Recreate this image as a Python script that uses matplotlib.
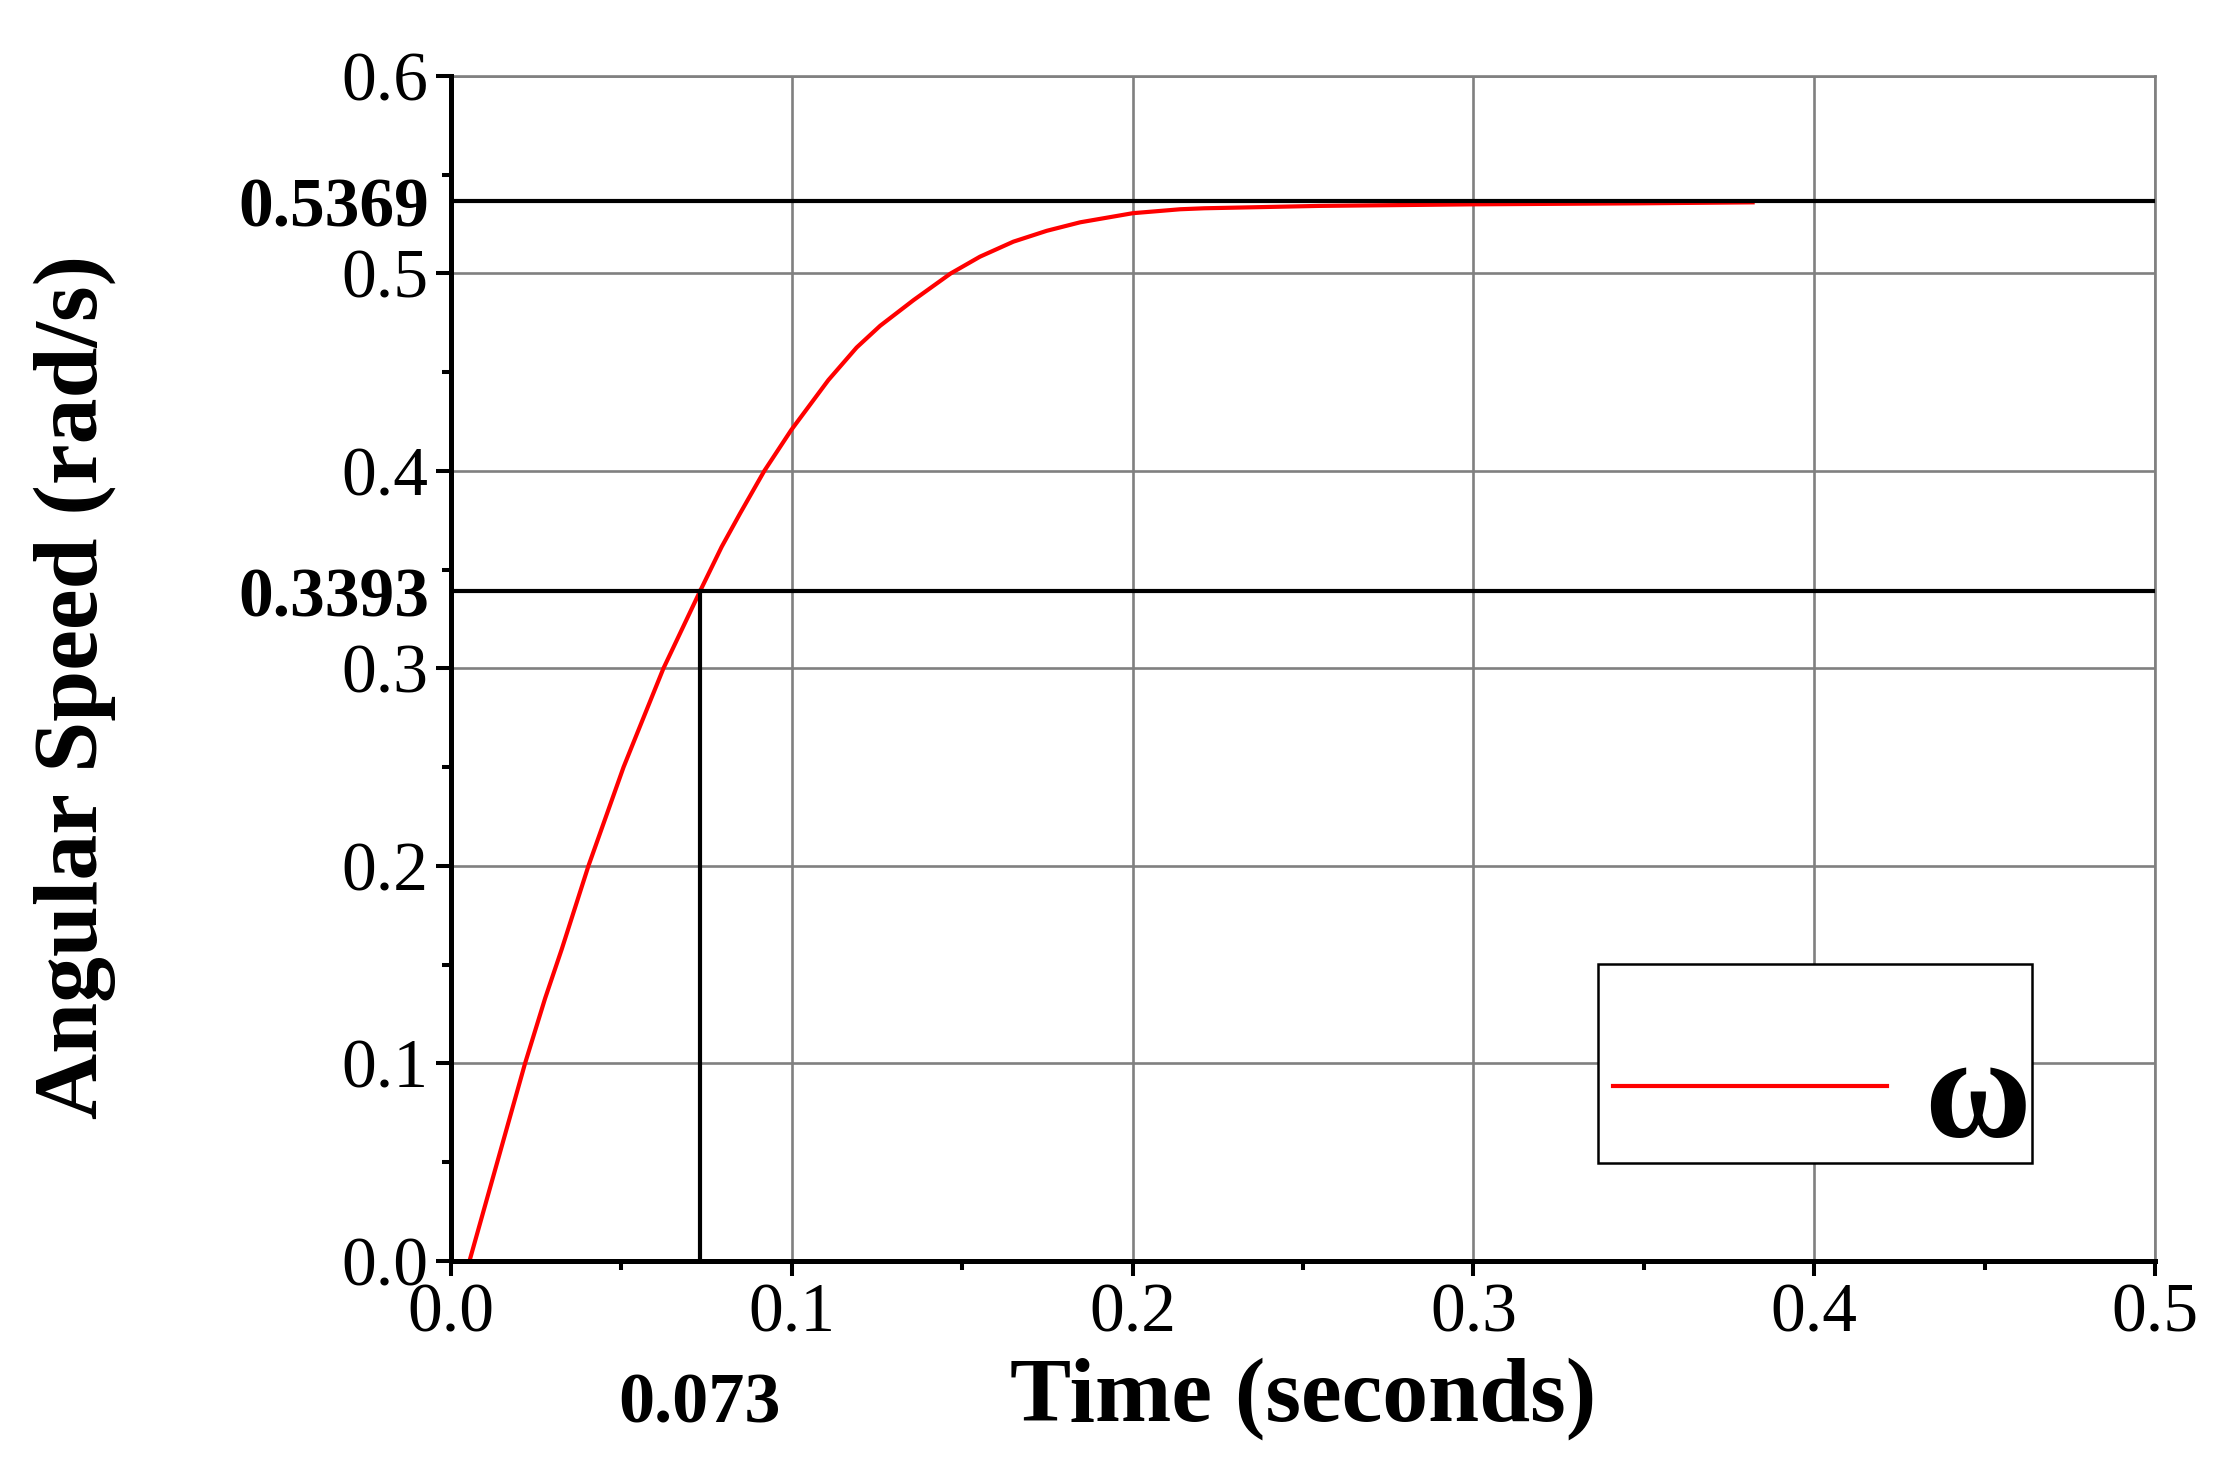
import matplotlib
matplotlib.use("Agg")
import matplotlib.pyplot as plt
from matplotlib.patches import Rectangle
from matplotlib.ticker import MultipleLocator, FormatStrFormatter

# step response
time_s = [0.0054, 0.0217, 0.0276, 0.0325, 0.0403, 0.0506, 0.0548, 0.0623,
          0.0731, 0.0794, 0.0848, 0.0919, 0.0998, 0.1107, 0.1190, 0.1259,
          0.1357, 0.1466, 0.1552, 0.1650, 0.1748, 0.1846, 0.2000, 0.2139,
          0.2210, 0.2547, 0.3000, 0.3483, 0.3819]
omega = [0.0, 0.100, 0.133, 0.158, 0.200, 0.250, 0.268, 0.300,
         0.3393, 0.3616, 0.3785, 0.400, 0.4207, 0.446, 0.4625, 0.4735,
         0.4865, 0.500, 0.5085, 0.5161, 0.5216, 0.5259, 0.5305, 0.5325,
         0.5330, 0.5342, 0.5350, 0.5355, 0.5360]

final_value = 0.5369
mark_value = 0.3393
mark_time = 0.073

SERIF = "Liberation Serif"

fig = plt.figure(figsize=(22.22, 14.69), dpi=100)
ax = fig.add_axes([0.2030, 0.1416, 0.7669, 0.8067])

ax.plot(time_s, omega, color="red", lw=3.0, label="\u03c9", zorder=3,
        solid_joinstyle="round")
ax.axhline(final_value, color="black", lw=3.0, zorder=4)
ax.axhline(mark_value, color="black", lw=3.0, zorder=4)
ax.plot([mark_time, mark_time], [0, mark_value], color="black", lw=3.0, zorder=4)

ax.set_xlim(0, 0.5)
ax.set_ylim(0, 0.6)
ax.xaxis.set_major_locator(MultipleLocator(0.1))
ax.xaxis.set_minor_locator(MultipleLocator(0.05))
ax.yaxis.set_major_locator(MultipleLocator(0.1))
ax.yaxis.set_minor_locator(MultipleLocator(0.05))
ax.xaxis.set_major_formatter(FormatStrFormatter("%.1f"))
ax.yaxis.set_major_formatter(FormatStrFormatter("%.1f"))

ax.grid(True, which="major", color="#808080", lw=1.9, zorder=1)
for side in ["top", "right"]:
    ax.spines[side].set_color("#808080")
    ax.spines[side].set_linewidth(1.9)
for side in ["left", "bottom"]:
    ax.spines[side].set_linewidth(3.6)
    ax.spines[side].set_zorder(5)

ax.tick_params(which="major", direction="out", length=10.8, width=2.9,
               labelsize=50)
ax.tick_params(which="minor", direction="out", length=6.5, width=2.9)
ax.tick_params(axis="y", pad=5.5)
ax.tick_params(axis="x", pad=5)
for lab in ax.get_xticklabels() + ax.get_yticklabels():
    lab.set_fontfamily(SERIF)

# bold value markers
for val in [final_value, mark_value]:
    ax.annotate("%.4f" % val, xy=(0, val), xycoords=("axes fraction", "data"),
                xytext=(-15.8, -18.4), textcoords="offset points",
                ha="right", va="baseline", fontsize=50, fontweight="bold",
                family=SERIF)
ax.annotate("%.3f" % mark_time, xy=(mark_time, 0), xycoords=("data", "axes fraction"),
            xytext=(0, -116.6), textcoords="offset points",
            ha="center", va="baseline", fontsize=52, fontweight="bold",
            family=SERIF)

ax.set_xlabel("Time (seconds)", fontsize=66, fontweight="bold", family=SERIF)
ax.set_ylabel("Angular Speed (rad/s)", fontsize=66, fontweight="bold", family=SERIF)
ax.xaxis.set_label_coords(0.5, -0.116)
ax.xaxis.label.set_va("center")
ax.yaxis.set_label_coords(-0.2212, 0.484)
ax.yaxis.label.set_va("center")

# legend: plain frame box drawn separately so its size can follow the original
ax.add_patch(Rectangle((0.6731, 0.0827), 0.2547, 0.1679, transform=ax.transAxes,
                       facecolor="white", edgecolor="black", lw=1.8, zorder=6))
leg = ax.legend(loc="center left", bbox_to_anchor=(0.6819, 0.135),
                prop={"family": SERIF, "weight": "bold", "size": 105},
                frameon=False, borderpad=0, handlelength=1.88,
                handletextpad=0.25, borderaxespad=0)
leg.set_zorder(7)

fig.savefig("out.png", dpi=100)
